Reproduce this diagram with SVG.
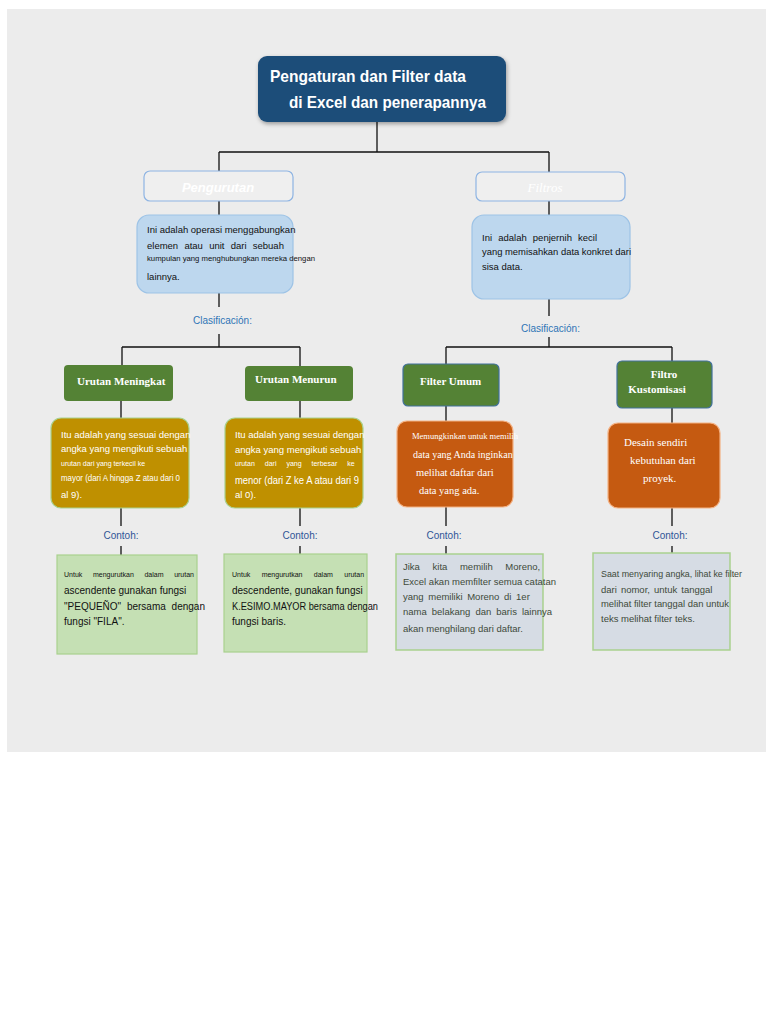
<svg xmlns="http://www.w3.org/2000/svg" width="768" height="1024" viewBox="0 0 768 1024">
<defs>
<filter id="sh" x="-10%" y="-10%" width="130%" height="140%"><feDropShadow dx="1" dy="2" stdDeviation="2" flood-color="#000" flood-opacity="0.35"/></filter>
<style>
.s{font-family:"Liberation Sans",Arial,sans-serif}
.sf{font-family:"Liberation Serif","Times New Roman",serif}
.ln{stroke:#111;stroke-width:1.3;fill:none}
.cat{fill:#efefef;stroke:#8eb4e3;stroke-width:1.2}
.desc{fill:#bdd7ee;stroke:#9dc3e6;stroke-width:1.2}
.grn{fill:#548235}
.gb{stroke:#41719c;stroke-width:1.2}
.yel{fill:#bf9000;stroke:#a9d18e;stroke-width:1.2}
.org{fill:#c55a11;stroke:#f4b183;stroke-width:1.2}
.exg{fill:#c5e0b4;stroke:#a9d18e;stroke-width:1.2}
.exb{fill:#d6dce4;stroke:#a9d18e;stroke-width:1.5}
.lbl{font-size:10px;fill:#2e75b6}
.cto{font-size:10px;fill:#2f5597}
.w{fill:#fff}
.k{fill:#111}
.d{fill:#404a3a}
</style>
</defs>
<rect width="768" height="1024" fill="#fff"/>
<rect x="7" y="9" width="759" height="743" fill="#ececec"/>

<g id="connectors">
<path class="ln" d="M377 122V152M219 152H549M219 152V171M549 152V172"/>
<path class="ln" d="M219 201V215M549 201V215"/>
<path class="ln" d="M219 293V307M219 334V347M122 347H300M122 347V366M300 347V366"/>
<path class="ln" d="M549 299V316M549 337V347M446 347H672M446 347V364M672 347V361"/>
<path class="ln" d="M121 401V418M300 401V418M446 406V421M672 408V423"/>
<path class="ln" d="M121 508V526M300 508V526M446 507V526M672 508V526"/>
<path class="ln" d="M121 546V555M300 546V554M446 546V554M672 546V553"/>
</g>

<g id="title">
<rect x="258" y="56" width="248" height="66" rx="9" fill="#1f4e79" filter="url(#sh)"/>
<text class="s w" x="270" y="82" font-size="17" font-weight="bold" textLength="196" lengthAdjust="spacingAndGlyphs">Pengaturan dan Filter data</text>
<text class="s w" x="289" y="108" font-size="17" font-weight="bold" textLength="197" lengthAdjust="spacingAndGlyphs">di Excel dan penerapannya</text>
</g>

<g id="pengurutan">
<rect class="cat" x="144" y="171" width="149" height="30" rx="6"/>
<text class="s w" x="218" y="192" font-size="13" font-weight="bold" font-style="italic" text-anchor="middle">Pengurutan</text>
</g>
<g id="filtros">
<rect class="cat" x="476" y="172" width="149" height="29" rx="6"/>
<text class="sf w" x="545" y="192" font-size="13" font-style="italic" text-anchor="middle">Filtros</text>
</g>

<g id="desc-pengurutan">
<rect class="desc" x="137" y="215" width="156" height="78" rx="12"/>
<text class="s k" x="147" y="233" font-size="9.5">Ini adalah operasi menggabungkan</text>
<text class="s k" x="147" y="249" font-size="9.5" word-spacing="3.6">elemen atau unit dari sebuah</text>
<text class="s k" x="147" y="261" font-size="6.5" textLength="168" lengthAdjust="spacingAndGlyphs">kumpulan yang menghubungkan mereka dengan</text>
<text class="s k" x="147" y="280" font-size="9.5">lainnya.</text>
</g>
<g id="desc-filtros">
<rect class="desc" x="472" y="215" width="158" height="84" rx="12"/>
<text class="s k" x="482" y="241" font-size="9.5" word-spacing="3.5">Ini adalah penjernih kecil</text>
<text class="s k" x="482" y="255" font-size="9.5" textLength="149" lengthAdjust="spacingAndGlyphs">yang memisahkan data konkret dari</text>
<text class="s k" x="482" y="270" font-size="9.5">sisa data.</text>
</g>

<text class="s lbl" x="193" y="324">Clasificación:</text>
<text class="s lbl" x="521" y="332">Clasificación:</text>

<g id="urutan-meningkat">
<rect class="grn" x="64" y="365" width="109" height="36" rx="4"/>
<text class="sf w" x="77" y="385" font-size="11" font-weight="bold">Urutan Meningkat</text>
</g>
<g id="urutan-menurun">
<rect class="grn" x="245" y="366" width="108" height="35" rx="4"/>
<text class="sf w" x="255" y="383" font-size="11" font-weight="bold">Urutan Menurun</text>
</g>
<g id="filter-umum">
<rect class="grn gb" x="403" y="364" width="96" height="42" rx="5"/>
<text class="sf w" x="420" y="385" font-size="11" font-weight="bold">Filter Umum</text>
</g>
<g id="filtro-kustomisasi">
<rect class="grn gb" x="617" y="361" width="95" height="47" rx="5"/>
<text class="sf w" x="664" y="378" font-size="11" font-weight="bold" text-anchor="middle">Filtro</text>
<text class="sf w" x="657" y="393" font-size="11" font-weight="bold" text-anchor="middle">Kustomisasi</text>
</g>

<g id="desc-meningkat">
<rect class="yel" x="51" y="418" width="138" height="90" rx="10"/>
<text class="s w" x="61" y="438" font-size="9.5">Itu adalah yang sesuai dengan</text>
<text class="s w" x="61" y="452" font-size="9.5">angka yang mengikuti sebuah</text>
<text class="s w" x="61" y="466" font-size="7">urutan dari yang terkecil ke</text>
<text class="s w" x="61" y="481" font-size="9" textLength="119" lengthAdjust="spacingAndGlyphs">mayor (dari A hingga Z atau dari 0</text>
<text class="s w" x="61" y="498" font-size="9.5">al 9).</text>
</g>
<g id="desc-menurun">
<rect class="yel" x="225" y="418" width="138" height="90" rx="10"/>
<text class="s w" x="235" y="438" font-size="9.5">Itu adalah yang sesuai dengan</text>
<text class="s w" x="235" y="453" font-size="9.5">angka yang mengikuti sebuah</text>
<text class="s w" x="235" y="466" font-size="7" word-spacing="8">urutan dari yang terbesar ke</text>
<text class="s w" x="235" y="484" font-size="10" textLength="124" lengthAdjust="spacingAndGlyphs">menor (dari Z ke A atau dari 9</text>
<text class="s w" x="235" y="498" font-size="9.5">al 0).</text>
</g>
<g id="desc-umum">
<rect class="org" x="397" y="421" width="116" height="86" rx="10"/>
<text class="sf w" x="412" y="439" font-size="8" textLength="106" lengthAdjust="spacingAndGlyphs">Memungkinkan untuk memilih</text>
<text class="sf w" x="413" y="458" font-size="10">data yang Anda inginkan</text>
<text class="sf w" x="416" y="476" font-size="10.5">melihat daftar dari</text>
<text class="sf w" x="419" y="494" font-size="10.5">data yang ada.</text>
</g>
<g id="desc-kustom">
<rect class="org" x="608" y="423" width="112" height="85" rx="10"/>
<text class="sf w" x="624" y="446" font-size="11">Desain sendiri</text>
<text class="sf w" x="630" y="464" font-size="11">kebutuhan dari</text>
<text class="sf w" x="643" y="482" font-size="11">proyek.</text>
</g>

<text class="s cto" x="121" y="539" text-anchor="middle">Contoh:</text>
<text class="s cto" x="300" y="539" text-anchor="middle">Contoh:</text>
<text class="s cto" x="444" y="539" text-anchor="middle">Contoh:</text>
<text class="s cto" x="670" y="539" text-anchor="middle">Contoh:</text>

<g id="ex-meningkat">
<rect class="exg" x="57" y="555" width="140" height="99" stroke="none"/>
<text class="s k" x="64" y="577" font-size="7" word-spacing="8.7">Untuk mengurutkan dalam urutan</text>
<text class="s k" x="64" y="594" font-size="10">ascendente gunakan fungsi</text>
<text class="s k" x="64" y="610" font-size="10" word-spacing="3">"PEQUEÑO" bersama dengan</text>
<text class="s k" x="64" y="625" font-size="10">fungsi "FILA".</text>
</g>
<g id="ex-menurun">
<rect class="exg" x="224" y="554" width="143" height="98"/>
<text class="s k" x="232" y="577" font-size="7" word-spacing="9.4">Untuk mengurutkan dalam urutan</text>
<text class="s k" x="232" y="594" font-size="10">descendente, gunakan fungsi</text>
<text class="s k" x="232" y="610" font-size="10" textLength="146" lengthAdjust="spacingAndGlyphs">K.ESIMO.MAYOR bersama dengan</text>
<text class="s k" x="232" y="625" font-size="10">fungsi baris.</text>
</g>
<g id="ex-umum">
<rect class="exb" x="396" y="554" width="147" height="96"/>
<text class="s d" x="403" y="570" font-size="9.5" word-spacing="10">Jika kita memilih Moreno,</text>
<text class="s d" x="403" y="585" font-size="9.5" textLength="153" lengthAdjust="spacingAndGlyphs">Excel akan memfilter semua catatan</text>
<text class="s d" x="403" y="600" font-size="9.5" word-spacing="2">yang memiliki Moreno di 1er</text>
<text class="s d" x="403" y="615" font-size="9.5" word-spacing="2.4">nama belakang dan baris lainnya</text>
<text class="s d" x="403" y="632" font-size="9.5">akan menghilang dari daftar.</text>
</g>
<g id="ex-kustom">
<rect class="exb" x="593" y="553" width="137" height="97"/>
<text class="s d" x="601" y="577" font-size="9.5" textLength="141" lengthAdjust="spacingAndGlyphs">Saat menyaring angka, lihat ke filter</text>
<text class="s d" x="601" y="593" font-size="9.5" word-spacing="1.4">dari nomor, untuk tanggal</text>
<text class="s d" x="601" y="607" font-size="9.5" textLength="128" lengthAdjust="spacingAndGlyphs">melihat filter tanggal dan untuk</text>
<text class="s d" x="601" y="622" font-size="9.5">teks melihat filter teks.</text>
</g>
</svg>
